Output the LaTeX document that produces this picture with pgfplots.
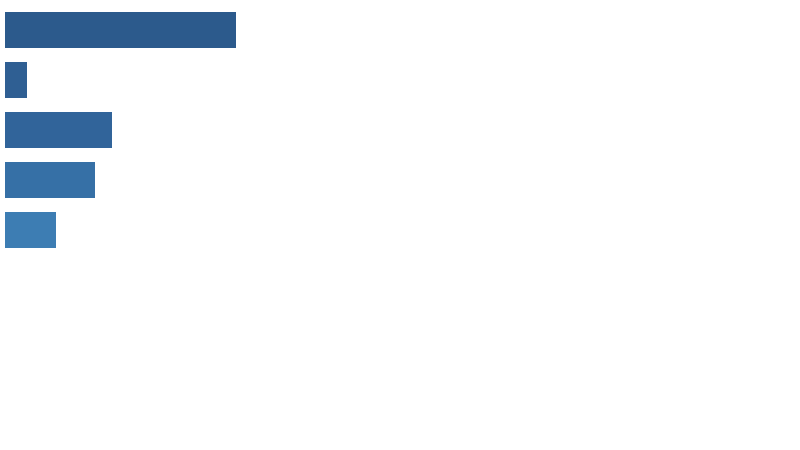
\documentclass[border=0pt]{standalone}
\usepackage{pgfplots}
\pgfplotsset{compat=1.18}
\definecolor{c1}{HTML}{2C5A8C}
\definecolor{c2}{HTML}{2F5F93}
\definecolor{c3}{HTML}{31649A}
\definecolor{c4}{HTML}{3670A6}
\definecolor{c5}{HTML}{3D7DB3}
\begin{document}
\begin{tikzpicture}
\begin{axis}[
  scale only axis,
  width=800bp, height=450bp,
  xmin=-5, xmax=795,
  ymin=0, ymax=450,
  y dir=reverse,
  axis lines=none,
  clip=false,
]
\path (axis cs:-5,0) rectangle (axis cs:795,450);
\addplot[xbar, bar shift=0pt, bar width=35.8, fill=c1, draw=none] coordinates {(230.7,29.9)};
\addplot[xbar, bar shift=0pt, bar width=35.8, fill=c2, draw=none] coordinates {(22,79.9)};
\addplot[xbar, bar shift=0pt, bar width=35.8, fill=c3, draw=none] coordinates {(107.3,129.9)};
\addplot[xbar, bar shift=0pt, bar width=35.8, fill=c4, draw=none] coordinates {(90,179.9)};
\addplot[xbar, bar shift=0pt, bar width=35.8, fill=c5, draw=none] coordinates {(50.7,229.9)};
\end{axis}
\end{tikzpicture}
\end{document}
